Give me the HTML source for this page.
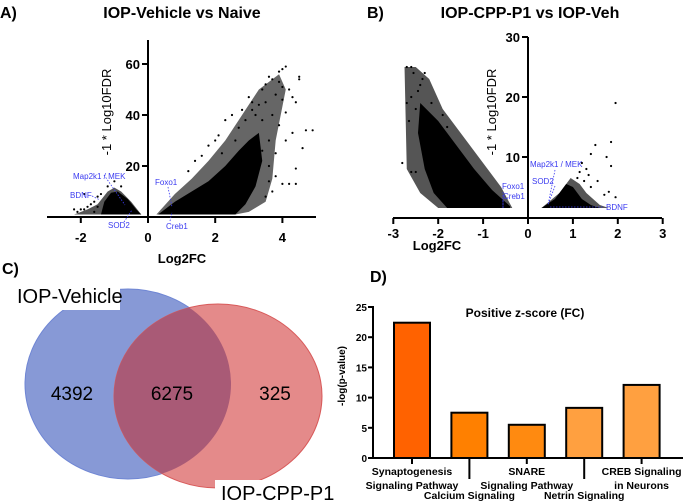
<!DOCTYPE html>
<html><head><meta charset="utf-8">
<style>
html,body{margin:0;padding:0;background:#fff;}
svg{display:block;font-family:"Liberation Sans",sans-serif;}
.tk{font-size:13px;font-weight:bold;}
.tt{font-size:16px;font-weight:bold;}
.bl{font-size:8px;fill:#3a3af0;}
</style></head>
<body>
<svg id="fig" width="685" height="504" viewBox="0 0 685 504">
<g id="pa"></g>
<g id="pb"></g>
<g id="pc"></g>
<g id="pd"></g>
</svg>
<script>
// ---------- Panel A data ----------
const aLeftOuterX = [-2.2,-1.8,-1.5,-1.2,-1.0,-0.8,-0.5,-0.2];
const aLeftOuterY = [1,3,5,10,11.5,10,6,1];
const aLeftEnvX = [-1.4,-1.3,-1.1,-0.9,-0.6,-0.35,-0.2];
const aLeftEnvY = [1,6,9.5,10,7,3,1];
const aRightOuterX = [0.25,0.8,1.3,1.8,2.3,2.7,3.0,3.3,3.6,3.9,4.1,3.8,3.7,3.5,3.0,2.6];
const aRightOuterY = [1,9,15,22,30,38,44,50,53,56,50,30,15,6,2,1];
const aRightEnvX = [0.3,0.8,1.3,1.8,2.3,2.7,3.0,3.3,3.4,3.2,2.9,2.6];
const aRightEnvY = [1,6,10,14,20,26,30,33,22,12,5,1];
const aOutX = [4.1,4.0,3.9,4.5,4.5,3.6,3.7,3.5,3.4,3.9,4.0,4.2,3.0,3.1,3.3,3.5,3.8,4.0,4.3,4.1,4.4,4.7,4.9,4.6,4.4,4.4,4.0,4.2,3.6,3.7,3.5,3.8,2.5,2.3,2.8,2.1,1.8,1.6,1.4,1.2,2.0,3.2,3.4,3.7,3.9,4.1,4.3,2.7,2.9,3.1,3.6,3.3,3.8,2.6,2.2,3.0,3.4,3.6,-2.1,-2.0,-1.9,-1.8,-1.7,-1.6,-1.5,-1.4,-1.2,-1.0,-0.8,-1.9,-2.2,-1.6,-1.5];
const aOutY = [59,58,57,55,54,55,54,52,50,53,51,50,47,45,44,45,48,46,47,41,45,34,34,27,19,13,13,13,20,10,8,25,40,38,42,32,28,24,22,18,30,40,38,40,36,30,33,35,38,42,30,28,16,30,25,20,26,14,2,3,3,4,5,6,8,9,12,14,12,9,3,2,4];
const aXTicks = [-2,0,2,4];
const aYTicks = [20,40,60];
// ---------- Panel B data ----------
const bLeftOuterX = [-2.75,-2.5,-2.2,-1.9,-1.5,-1.0,-0.6,-0.35,-2.0,-2.4,-2.7];
const bLeftOuterY = [25,25,23,18,14,9,5,1.5,1.5,4,8];
const bLeftEnvX = [-2.4,-2.0,-1.6,-1.2,-0.8,-0.4,-0.4,-1.8,-2.1,-2.3,-2.45];
const bLeftEnvY = [19,16,12,8,4.5,1.8,1.5,1.5,4,8,14];
const bRightOuterX = [0.3,0.7,0.95,1.15,1.3,1.6,1.8];
const bRightOuterY = [1.5,4,6.5,5.5,4,2,1.5];
const bRightEnvX = [0.3,0.6,0.85,1.0,1.2,1.4,1.6];
const bRightEnvY = [1.5,3,5.5,5,3,2,1.5];
const bOutX = [-2.7,-2.6,-2.55,-2.3,-2.4,-2.6,-2.7,-2.5,-2.8,-2.6,-2.5,-2.3,-2.2,-2.1,-2.0,-1.6,-1.3,-1.0,-2.45,-2.35,-2.15,-1.9,-1.8,-2.65,1.95,1.85,1.5,1.4,1.75,1.85,1.55,1.7,1.8,1.95,1.3,1.2,1.35,1.4,1.25,1.15,1.1];
const bOutY = [25,25,24,24,22,20,19,18,9,7.5,7.5,12,10,7,5,9,8,5,21,23,19,17,15,16,19,12.5,12,10.5,10,8.5,6,3.7,4.2,3.3,8,9,7,5,6,7.5,6.5];
const bXTicks = [-3,-2,-1,0,1,2,3];
const bYTicks = [10,20,30];
// ---------- Panel C data ----------
const vennCounts = [4392,6275,325];
// ---------- Panel D data ----------
const dCats = ["Synaptogenesis Signaling Pathway","Calcium Signaling","SNARE Signaling Pathway","Netrin Signaling","CREB Signaling in Neurons"];
const dVals = [22.4,7.5,5.5,8.3,12.1];
const dColors = ["#ff6200","#ff8000","#ff8a10","#ffa040","#ffa040"];
const dYTicks = [0,5,10,15,20,25];

const NS="http://www.w3.org/2000/svg";
function mk(parent,tag,attrs,name,text){
  const e=document.createElementNS(NS,tag);
  for(const k in attrs) e.setAttribute(k,attrs[k]);
  
  
  if(text!==undefined) e.textContent=text;
  parent.appendChild(e); return e;
}
function poly(g,xs,ys,x,y,fill,name){
  const pts=xs.map((v,i)=>x(v)+','+y(ys[i])).join(' ');
  mk(g,'polygon',{points:pts,fill:fill},name);
}

// ===== Panel A =====
(function(){
  const g=document.getElementById('pa');
  const x=v=>148+v*33.6, y=v=>217-v*2.55;
  mk(g,'text',{x:0,y:18,class:'tt'},'panel-a-letter','A)');
  mk(g,'text',{x:182,y:18,class:'tt','text-anchor':'middle'},'panel-a-title','IOP-Vehicle vs Naive');
  poly(g,aLeftOuterX,aLeftOuterY,x,y,'#555','left-cluster-sparse');
  poly(g,aLeftEnvX,aLeftEnvY,x,y,'#000','left-cluster');
  poly(g,aRightOuterX,aRightOuterY,x,y,'#666','right-cluster-sparse');
  poly(g,aRightEnvX,aRightEnvY,x,y,'#000','right-cluster');
  aOutX.forEach((v,i)=>{mk(g,'circle',{cx:x(v),cy:y(aOutY[i]),r:1.1,fill:'#000'},'point');});
  mk(g,'line',{x1:47,y1:217,x2:316,y2:217,stroke:'#000','stroke-width':2},'x-axis');
  mk(g,'line',{x1:148,y1:40,x2:148,y2:218,stroke:'#000','stroke-width':2},'y-axis');
  aXTicks.forEach(t=>{mk(g,'line',{x1:x(t),y1:217,x2:x(t),y2:223,stroke:'#000','stroke-width':2},'x-tick');
    mk(g,'text',{x:x(t),y:242,class:'tk','text-anchor':'middle'},'x-tick-label',String(t));});
  aYTicks.forEach(t=>{mk(g,'line',{x1:142,y1:y(t),x2:148,y2:y(t),stroke:'#000','stroke-width':2},'y-tick');
    mk(g,'text',{x:140,y:y(t)+5,class:'tk','text-anchor':'end'},'y-tick-label',String(t));});
  mk(g,'text',{x:0,y:0,transform:'translate(111,112) rotate(-90)','text-anchor':'middle','font-size':'13'},'y-axis-title','-1 * Log10FDR');
  mk(g,'text',{x:182,y:263,class:'tk','text-anchor':'middle'},'x-axis-title','Log2FC');
  const L=[['Map2k1 / MEK',73,179,104,175,125,205],['BDNF',70,198,92,196,100,200],['SOD2',108,228,124,222,132,210],['Foxo1',155,185,168,187,172,207],['Creb1',166,229,170,221,172,212]];
  L.forEach(l=>{mk(g,'text',{x:l[1],y:l[2],class:'bl'},'gene-label',l[0]);
    mk(g,'line',{x1:l[3],y1:l[4],x2:l[5],y2:l[6],stroke:'#3a3af0','stroke-width':0.8,'stroke-dasharray':'1.5,1.5'},'gene-leader');});
})();

// ===== Panel B =====
(function(){
  const g=document.getElementById('pb');
  const x=v=>528+v*44.9, y=v=>217-v*6.0;
  mk(g,'text',{x:367,y:18,class:'tt'},'panel-b-letter','B)');
  mk(g,'text',{x:530,y:18,class:'tt','text-anchor':'middle'},'panel-b-title','IOP-CPP-P1 vs IOP-Veh');
  poly(g,bLeftOuterX,bLeftOuterY,x,y,'#555','left-cluster-sparse');
  poly(g,bLeftEnvX,bLeftEnvY,x,y,'#000','left-cluster');
  poly(g,bRightOuterX,bRightOuterY,x,y,'#555','right-cluster-sparse');
  poly(g,bRightEnvX,bRightEnvY,x,y,'#000','right-cluster');
  bOutX.forEach((v,i)=>{mk(g,'circle',{cx:x(v),cy:y(bOutY[i]),r:1.1,fill:'#000'},'point');});
  mk(g,'line',{x1:393,y1:218,x2:662,y2:218,stroke:'#000','stroke-width':2},'x-axis');
  mk(g,'line',{x1:528,y1:37,x2:528,y2:218,stroke:'#000','stroke-width':2},'y-axis');
  bXTicks.forEach(t=>{mk(g,'line',{x1:x(t),y1:218,x2:x(t),y2:224,stroke:'#000','stroke-width':2},'x-tick');
    mk(g,'text',{x:x(t),y:238,class:'tk','text-anchor':'middle'},'x-tick-label',String(t));});
  bYTicks.forEach(t=>{mk(g,'line',{x1:522,y1:y(t),x2:528,y2:y(t),stroke:'#000','stroke-width':2},'y-tick');
    mk(g,'text',{x:520,y:y(t)+5,class:'tk','text-anchor':'end'},'y-tick-label',String(t));});
  mk(g,'text',{x:0,y:0,transform:'translate(496,112) rotate(-90)','text-anchor':'middle','font-size':'13'},'y-axis-title','-1 * Log10FDR');
  mk(g,'text',{x:437,y:250,class:'tk','text-anchor':'middle'},'x-axis-title','Log2FC');
  const L=[['Map2k1 / MEK',530,167,555,170,548,205],['SOD2',532,184,555,186,548,205],['Foxo1',502,189,503,192,503,208],['Creb1',503,199,503,200,503,208],['BDNF',606,210,550,207,604,207]];
  L.forEach(l=>{mk(g,'text',{x:l[1],y:l[2],class:'bl'},'gene-label',l[0]);
    mk(g,'line',{x1:l[3],y1:l[4],x2:l[5],y2:l[6],stroke:'#3a3af0','stroke-width':0.8,'stroke-dasharray':'1.5,1.5'},'gene-leader');});
})();

// ===== Panel C =====
(function(){
  const g=document.getElementById('pc');
  mk(g,'text',{x:2,y:274,class:'tt'},'panel-c-letter','C)');
  const defs=mk(g,'defs',{},'venn-defs');
  const cp=mk(defs,'clipPath',{id:'blueclip'},'blue-clip');
  mk(cp,'ellipse',{cx:128,cy:384,rx:103,ry:95},'blue-clip-shape');
  mk(g,'ellipse',{cx:128,cy:384,rx:103,ry:95,fill:'#8799d6',stroke:'#6f86d4','stroke-width':1},'iop-vehicle-set');
  mk(g,'ellipse',{cx:218,cy:396,rx:104,ry:92,fill:'#e48a8a',stroke:'#d85a5a','stroke-width':1},'iop-cpp-p1-set');
  mk(g,'ellipse',{cx:218,cy:396,rx:104,ry:92,fill:'#a95a76','clip-path':'url(#blueclip)'},'overlap');
  mk(g,'rect',{x:0,y:280,width:120,height:30,fill:'#fff'},'label-mask-top');
  mk(g,'rect',{x:215,y:480,width:120,height:24,fill:'#fff'},'label-mask-bottom');
  mk(g,'text',{x:17,y:303,'font-size':'20'},'set-label-iop-vehicle','IOP-Vehicle');
  mk(g,'text',{x:221,y:500,'font-size':'20'},'set-label-iop-cpp-p1','IOP-CPP-P1');
  const cx=[72,172,275];
  vennCounts.forEach((c,i)=>mk(g,'text',{x:cx[i],y:400,'font-size':'19','text-anchor':'middle'},'venn-count',String(c)));
})();

// ===== Panel D =====
(function(){
  const g=document.getElementById('pd');
  const y=v=>458-v*6.04;
  const bx=i=>412+i*57.4;
  mk(g,'text',{x:370,y:282,class:'tt'},'panel-d-letter','D)');
  mk(g,'text',{x:525,y:317,'font-size':'12','font-weight':'bold','text-anchor':'middle'},'panel-d-title','Positive z-score (FC)');
  dVals.forEach((v,i)=>{mk(g,'rect',{x:bx(i)-18,y:y(v),width:36,height:458-y(v),fill:dColors[i],stroke:'#000','stroke-width':2},'bar-'+(i+1));});
  mk(g,'line',{x1:373,y1:458,x2:683,y2:458,stroke:'#000','stroke-width':2},'x-axis');
  mk(g,'line',{x1:373,y1:306,x2:373,y2:459,stroke:'#000','stroke-width':2},'y-axis');
  dYTicks.forEach(t=>{mk(g,'line',{x1:368,y1:y(t),x2:373,y2:y(t),stroke:'#000','stroke-width':2},'y-tick');
    mk(g,'text',{x:367,y:y(t)+4,'font-size':'10','font-weight':'bold','text-anchor':'end'},'y-tick-label',String(t));});
  mk(g,'text',{x:0,y:0,transform:'translate(345,376) rotate(-90)','text-anchor':'middle','font-size':'10','font-weight':'bold'},'y-axis-title','-log(p-value)');
  dCats.forEach((c,i)=>{
    const odd=i%2===1;
    mk(g,'line',{x1:bx(i),y1:458,x2:bx(i),y2:odd?479:464,stroke:'#000','stroke-width':2},'x-tick');
    let lines;
    if(odd) lines=[[c,499]];
    else { const w=c.split(' '); const k=i===4?2:1; lines=[[w.slice(0,k).join(' '),475],[w.slice(k).join(' '),489]]; }
    lines.forEach(l=>mk(g,'text',{x:bx(i),y:l[1],'font-size':'10.5','font-weight':'bold','text-anchor':'middle'},'x-category-label',l[0]));
  });
})();
</script>
</body></html>
